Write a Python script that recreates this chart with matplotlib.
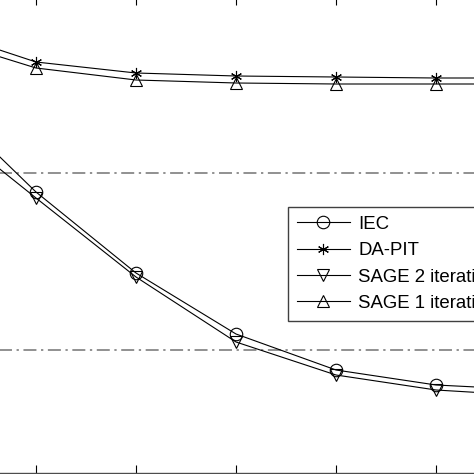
import matplotlib
matplotlib.use("Agg")
import matplotlib.pyplot as plt

plt.rcParams['font.family'] = ['Liberation Sans', 'DejaVu Sans']

# data (x = iteration index, y = arbitrary error units)
x = [1, 2, 3, 4, 5, 6, 7]
iec = [3.78, 2.81, 2.00, 1.39, 1.03, 0.88, 0.83]
da_pit = [4.44, 4.11, 4.00, 3.97, 3.96, 3.95, 3.95]
sage2 = [3.55, 2.75, 1.96, 1.31, 0.98, 0.83, 0.77]
sage1 = [4.36, 4.05, 3.93, 3.90, 3.89, 3.89, 3.89]
thresholds = [3.00, 1.23]
labels = ['IEC', 'DA-PIT', 'SAGE 2 iterations', 'SAGE 1 iteration']

W = 474
fig = plt.figure(figsize=(4.74, 4.74), dpi=100)
# the picture is a crop: left/right spines sit outside the frame
ax = fig.add_axes([-64 / W, 1 / W, 600 / W, 476 / W])

for t in thresholds:
    ax.axhline(t, color='0.45', lw=1.1, dashes=(8.5, 3, 1.5, 3))

kw = dict(color='black', lw=0.8, markerfacecolor='none', markeredgecolor='black',
          markeredgewidth=0.8)
ax.plot(x, iec, marker='o', markersize=9, label=labels[0], **kw)
ax.plot(x, da_pit, marker=(6, 2, 0), markersize=8, label=labels[1], **kw)
ax.plot(x, sage2, marker='v', markersize=9, label=labels[2], **kw)
ax.plot(x, sage1, marker='^', markersize=9, label=labels[3], **kw)

ax.set_xlim(1, 7)
ax.set_ylim(0, 4.76)
ax.set_xticks(x)
ax.set_yticks([])
ax.tick_params(axis='x', direction='in', length=6, width=0.8, top=True,
               labelbottom=False)
for s in ax.spines.values():
    s.set_color('0.3')
    s.set_linewidth(1.0)

leg = ax.legend(loc='upper left', bbox_to_anchor=(288 / W, 1 - 207 / W),
                bbox_transform=fig.transFigure, borderaxespad=0,
                fontsize=13.4, handlelength=2.85, handletextpad=0.45,
                labelspacing=0.5, borderpad=0.48, fancybox=False,
                framealpha=1)
leg.get_frame().set_edgecolor('0.25')
leg.get_frame().set_linewidth(1.0)

fig.savefig('out.png', dpi=100)
